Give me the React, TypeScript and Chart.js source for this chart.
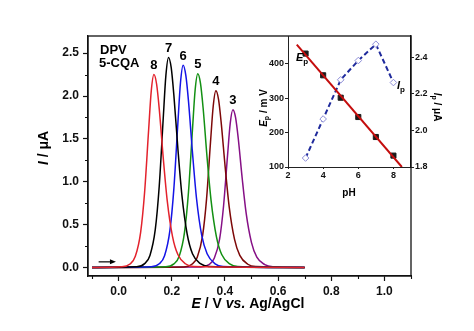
import React, { useEffect, useRef } from "react";
import { Chart, registerables } from "chart.js";

Chart.register(...registerables);

const FONT = "'Liberation Sans', Arial, sans-serif";
const NARROW = "'Liberation Sans Narrow', 'Arial Narrow', 'Liberation Sans', Arial, sans-serif";

// ---- main DPV curves (E / V, I / uA) ----
const eRed = [-0.1, 0.013, 0.043, 0.063, 0.083, 0.098, 0.113, 0.123, 0.133, 0.143, 0.153, 0.168, 0.183, 0.203, 0.223, 0.253, 0.283, 0.7];
const iRed = [0, 0.007, 0.04, 0.13, 0.41, 0.88, 1.6, 2.06, 2.25, 2.14, 1.85, 1.28, 0.78, 0.36, 0.15, 0.04, 0.01, 0];
const eBlack = [-0.1, 0.068, 0.098, 0.118, 0.138, 0.153, 0.168, 0.178, 0.188, 0.198, 0.208, 0.223, 0.238, 0.258, 0.278, 0.308, 0.338, 0.7];
const iBlack = [0, 0.007, 0.044, 0.14, 0.44, 0.95, 1.74, 2.24, 2.45, 2.33, 2.01, 1.39, 0.85, 0.39, 0.16, 0.044, 0.012, 0];
const eBlue = [-0.1, 0.123, 0.153, 0.173, 0.193, 0.208, 0.223, 0.233, 0.243, 0.253, 0.263, 0.278, 0.293, 0.313, 0.333, 0.363, 0.393, 0.7];
const iBlue = [0, 0.007, 0.042, 0.137, 0.43, 0.92, 1.68, 2.16, 2.36, 2.24, 1.94, 1.34, 0.81, 0.37, 0.16, 0.042, 0.012, 0];
const eGreen = [-0.1, 0.178, 0.208, 0.228, 0.248, 0.263, 0.278, 0.288, 0.298, 0.308, 0.318, 0.333, 0.348, 0.368, 0.388, 0.418, 0.448, 0.7];
const iGreen = [0, 0.007, 0.041, 0.131, 0.41, 0.88, 1.61, 2.07, 2.26, 2.15, 1.86, 1.28, 0.78, 0.36, 0.15, 0.041, 0.011, 0];
const eBrown = [-0.1, 0.246, 0.276, 0.296, 0.316, 0.331, 0.346, 0.356, 0.366, 0.376, 0.386, 0.401, 0.416, 0.436, 0.456, 0.486, 0.516, 0.7];
const iBrown = [0, 0.006, 0.037, 0.119, 0.37, 0.8, 1.47, 1.88, 2.06, 1.96, 1.69, 1.17, 0.71, 0.33, 0.14, 0.037, 0.01, 0];
const ePurple = [-0.1, 0.31, 0.34, 0.36, 0.38, 0.395, 0.41, 0.42, 0.43, 0.44, 0.45, 0.465, 0.48, 0.5, 0.52, 0.55, 0.58, 0.7];
const iPurple = [0, 0.006, 0.033, 0.107, 0.33, 0.72, 1.31, 1.68, 1.84, 1.75, 1.51, 1.04, 0.63, 0.29, 0.12, 0.033, 0.009, 0];

const peakLabels = ["8", "7", "6", "5", "4", "3"];
const peakE = [0.133, 0.188, 0.243, 0.298, 0.366, 0.43];
const peakI = [2.25, 2.45, 2.36, 2.26, 2.06, 1.84];

const xMajorTicks = [0, 0.2, 0.4, 0.6, 0.8, 1.0];
const xMinorTicks = [-0.1, 0.1, 0.3, 0.5, 0.7, 0.9, 1.1];
const yMajorTicks = [0, 0.5, 1.0, 1.5, 2.0, 2.5];
const yMinorTicks = [0.25, 0.75, 1.25, 1.75, 2.25];
const arrowE = [-0.075, -0.01];
const arrowI = 0.065;

// ---- inset (pH dependence) ----
const insetPH = [3, 4, 5, 6, 7, 8];
const insetEp = [429, 366, 301, 245, 187, 133];
const insetIp = [1.849, 2.062, 2.276, 2.381, 2.47, 2.261];
const fitPH = [2.5, 8.48];
const fitEp = [455, 100];
const insetXTicks = [2, 4, 6, 8];
const insetEpTicks = [100, 200, 300, 400];
const insetIpTicks = [1.8, 2.0, 2.2, 2.4];

type Part = { t: string; italic?: boolean; sub?: boolean };

function drawRich(ctx: CanvasRenderingContext2D, parts: Part[], x: number, y: number, size: number, align: "center" | "left" = "center", family = FONT) {
  const fontFor = (p: Part) => `${p.italic ? "italic " : ""}bold ${p.sub ? Math.round(size * 0.72) : size}px ${family}`;
  const widths = parts.map((p) => {
    ctx.font = fontFor(p);
    return ctx.measureText(p.t).width;
  });
  const total = widths.reduce((a, b) => a + b, 0);
  let cx = align === "center" ? x - total / 2 : x;
  ctx.textAlign = "left";
  ctx.textBaseline = "middle";
  parts.forEach((p, i) => {
    ctx.font = fontFor(p);
    ctx.fillText(p.t, cx, p.sub ? y + size * 0.3 : y);
    cx += widths[i];
  });
}

const mainPlugin = {
  id: "mainDecor",
  afterDraw(chart: any) {
    const { ctx, chartArea, scales } = chart;
    const xs = scales.x;
    const ys = scales.y;
    ctx.save();
    // frame
    ctx.strokeStyle = "#111";
    ctx.lineWidth = 1.3;
    ctx.strokeRect(chartArea.left, chartArea.top, chartArea.right - chartArea.left, chartArea.bottom - chartArea.top);
    // minor ticks
    ctx.lineWidth = 1.1;
    ctx.beginPath();
    xMinorTicks.forEach((v) => {
      const px = Math.round(xs.getPixelForValue(v)) + 0.5;
      ctx.moveTo(px, chartArea.bottom);
      ctx.lineTo(px, chartArea.bottom + 3);
    });
    yMinorTicks.forEach((v) => {
      const py = Math.round(ys.getPixelForValue(v)) + 0.5;
      ctx.moveTo(chartArea.left, py);
      ctx.lineTo(chartArea.left - 3, py);
    });
    ctx.stroke();
    // arrow
    const ax0 = xs.getPixelForValue(arrowE[0]);
    const ax1 = xs.getPixelForValue(arrowE[1]);
    const ay = ys.getPixelForValue(arrowI);
    ctx.strokeStyle = "#000";
    ctx.fillStyle = "#000";
    ctx.lineWidth = 1.2;
    ctx.beginPath();
    ctx.moveTo(ax0, ay);
    ctx.lineTo(ax1 - 4, ay);
    ctx.stroke();
    ctx.beginPath();
    ctx.moveTo(ax1, ay);
    ctx.lineTo(ax1 - 6, ay - 2.5);
    ctx.lineTo(ax1 - 6, ay + 2.5);
    ctx.closePath();
    ctx.fill();
    // peak labels
    ctx.fillStyle = "#000";
    peakLabels.forEach((lab, i) => {
      drawRich(ctx, [{ t: lab }], xs.getPixelForValue(peakE[i]), ys.getPixelForValue(peakI[i]) - 9, 13);
    });
    // DPV / 5-CQA
    drawRich(ctx, [{ t: "DPV" }], chartArea.left + 12, chartArea.top + 14, 13, "left");
    drawRich(ctx, [{ t: "5-CQA" }], chartArea.left + 11, chartArea.top + 27, 13, "left");
    // axis titles
    drawRich(ctx, [{ t: "E", italic: true }, { t: " / V " }, { t: "vs.", italic: true }, { t: " Ag/AgCl" }], 248, 304, 14);
    ctx.save();
    ctx.translate(44, 148);
    ctx.rotate(-Math.PI / 2);
    drawRich(ctx, [{ t: "I", italic: true }, { t: " / μA" }], 0, 0, 14);
    ctx.restore();
    ctx.restore();
  },
};

const insetPlugin = {
  id: "insetDecor",
  afterDraw(chart: any) {
    const { ctx, chartArea } = chart;
    ctx.save();
    ctx.fillStyle = "#000";
    drawRich(ctx, [{ t: "E", italic: true }, { t: "p", sub: true }], chartArea.left + 8, 58, 11, "left");
    drawRich(ctx, [{ t: "I", italic: true }, { t: "p", sub: true }], 397, 86, 11, "left");
    drawRich(ctx, [{ t: "pH" }], 349, 193, 10);
    ctx.save();
    ctx.translate(264, 108);
    ctx.rotate(-Math.PI / 2);
    drawRich(ctx, [{ t: "E", italic: true }, { t: "p", sub: true }, { t: " / m V" }], 0, 0, 10);
    ctx.restore();
    ctx.save();
    ctx.translate(437, 107);
    ctx.rotate(Math.PI / 2);
    drawRich(ctx, [{ t: "I", italic: true }, { t: "p", sub: true }, { t: " / μA" }], 0, 0, 10);
    ctx.restore();
    ctx.restore();
  },
};

const curves = [
  { e: eRed, i: iRed, color: "#e3222c" },
  { e: eBlack, i: iBlack, color: "#000000" },
  { e: eBlue, i: iBlue, color: "#1414e6" },
  { e: eGreen, i: iGreen, color: "#139013" },
  { e: eBrown, i: iBrown, color: "#7d0808" },
  { e: ePurple, i: iPurple, color: "#861086" },
];

export default function App() {
  const mainRef = useRef<HTMLCanvasElement>(null);
  const insetRef = useRef<HTMLCanvasElement>(null);

  useEffect(() => {
    const tickFont = { family: FONT, size: 12, weight: "bold" as const };
    const main = new Chart(mainRef.current!, {
      type: "line",
      data: {
        datasets: curves.map((c) => ({
          data: c.e.map((x, k) => ({ x, y: c.i[k] })),
          borderColor: c.color,
          borderWidth: 1.5,
          pointRadius: 0,
          fill: false,
          cubicInterpolationMode: "monotone" as const,
        })),
      },
      options: {
        animation: false,
        responsive: false,
        maintainAspectRatio: false,
        layout: { padding: { left: 0, top: 36, right: 474 - 411, bottom: 0 } },
        plugins: { legend: { display: false }, tooltip: { enabled: false } },
        scales: {
          x: {
            type: "linear",
            min: -0.115,
            max: 1.1,
            afterBuildTicks: (s: any) => {
              s.ticks = xMajorTicks.map((v) => ({ value: v }));
            },
            afterFit: (s: any) => {
              s.height = 331 - 276;
            },
            grid: { drawOnChartArea: false, drawTicks: true, tickLength: 5, tickColor: "#111", tickWidth: 1.2 },
            border: { display: true, color: "#111", width: 1.3 },
            ticks: { color: "#111", font: tickFont, padding: 3, maxRotation: 0, autoSkip: false, callback: (v: any) => Number(v).toFixed(1) },
          },
          y: {
            type: "linear",
            min: -0.1,
            max: 2.7,
            afterBuildTicks: (s: any) => {
              s.ticks = yMajorTicks.map((v) => ({ value: v }));
            },
            afterFit: (s: any) => {
              s.width = 88;
            },
            grid: { drawOnChartArea: false, drawTicks: true, tickLength: 5, tickColor: "#111", tickWidth: 1.2 },
            border: { display: true, color: "#111", width: 1.3 },
            ticks: { color: "#111", font: tickFont, padding: 4, autoSkip: false, callback: (v: any) => Number(v).toFixed(1) },
          },
        },
      },
      plugins: [mainPlugin],
    });

    const insetFont = { family: NARROW, size: 9, weight: "bold" as const };
    const inset = new Chart(insetRef.current!, {
      type: "line",
      data: {
        datasets: [
          {
            data: fitPH.map((x, k) => ({ x, y: fitEp[k] })),
            borderColor: "#c40d0d",
            borderWidth: 2,
            pointRadius: 0,
            yAxisID: "y",
          },
          {
            data: insetPH.map((x, k) => ({ x, y: insetEp[k] })),
            showLine: false,
            pointStyle: "rect",
            pointRadius: 3.6,
            pointBackgroundColor: "#1a1a1a",
            pointBorderColor: "#1a1a1a",
            pointBorderWidth: 1,
            yAxisID: "y",
          },
          {
            data: insetPH.map((x, k) => ({ x, y: insetIp[k] })),
            borderColor: "#1f2a9c",
            borderWidth: 2,
            borderDash: [5, 3],
            pointStyle: "rectRot",
            pointRadius: 3.3,
            pointBackgroundColor: "#ffffff",
            pointBorderColor: "#8c8cd6",
            pointBorderWidth: 1,
            yAxisID: "y1",
          },
        ],
      },
      options: {
        animation: false,
        responsive: false,
        maintainAspectRatio: false,
        layout: { padding: { left: 250, top: 36, right: 474 - 411 - 30, bottom: 331 - 167 - 20 } },
        plugins: { legend: { display: false }, tooltip: { enabled: false } },
        scales: {
          x: {
            type: "linear",
            min: 2,
            max: 9,
            afterBuildTicks: (s: any) => {
              s.ticks = insetXTicks.map((v) => ({ value: v }));
            },
            afterFit: (s: any) => {
              s.height = 20;
            },
            grid: { drawOnChartArea: false, drawTicks: true, tickLength: 2, tickColor: "#222" },
            border: { display: true, color: "#222", width: 1 },
            ticks: { color: "#111", font: insetFont, padding: 1, maxRotation: 0, autoSkip: false },
          },
          y: {
            type: "linear",
            position: "left",
            min: 100,
            max: 480,
            afterBuildTicks: (s: any) => {
              s.ticks = insetEpTicks.map((v) => ({ value: v }));
            },
            afterFit: (s: any) => {
              s.width = 38;
            },
            grid: { drawOnChartArea: false, drawTicks: true, tickLength: 3, tickColor: "#222" },
            border: { display: true, color: "#222", width: 1 },
            ticks: { color: "#111", font: insetFont, padding: 1, autoSkip: false },
          },
          y1: {
            type: "linear",
            position: "right",
            min: 1.8,
            max: 2.515,
            afterBuildTicks: (s: any) => {
              s.ticks = insetIpTicks.map((v) => ({ value: v }));
            },
            afterFit: (s: any) => {
              s.width = 30;
            },
            grid: { drawOnChartArea: false, drawTicks: true, tickLength: 3, tickColor: "#222" },
            border: { display: true, color: "#111", width: 1.3 },
            ticks: { color: "#111", font: insetFont, padding: 1, autoSkip: false, callback: (v: any) => Number(v).toFixed(1) },
          },
        },
      },
      plugins: [insetPlugin],
    });

    return () => {
      main.destroy();
      inset.destroy();
    };
  }, []);

  return (
    <div style={{ position: "fixed", left: 0, top: 0, width: 474, height: 331, background: "#fff" }}>
      <canvas ref={mainRef} width={474} height={331} style={{ position: "absolute", left: 0, top: 0, width: 474, height: 331 }} />
      <canvas ref={insetRef} width={474} height={331} style={{ position: "absolute", left: 0, top: 0, width: 474, height: 331 }} />
    </div>
  );
}
